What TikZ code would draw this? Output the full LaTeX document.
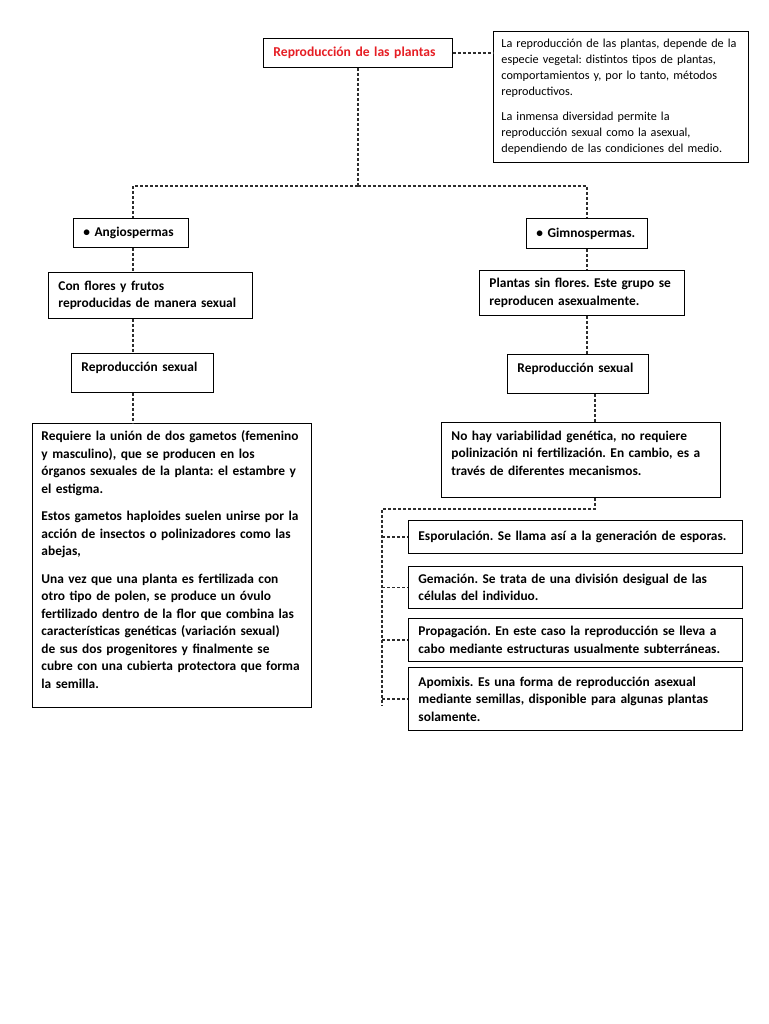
\documentclass[tikz,border=0pt]{standalone}
\usepackage{fontspec}
\setmainfont{Carlito}
\frenchspacing
\usetikzlibrary{positioning,calc}
\definecolor{rojotitulo}{RGB}{230,30,36}
\definecolor{gristrazo}{RGB}{45,45,45}
\newcommand\letraCaja{\fontsize{13.4}{17.5}\selectfont\bfseries\frenchspacing}
\newcommand\letraNota{\fontsize{12.2}{16}\selectfont\frenchspacing}
\tikzset{caja/.style={draw, line width=0.9pt, anchor=north west, align=left, inner xsep=10pt, inner ysep=0pt, font=\letraCaja},
  conector/.style={draw=gristrazo, line width=1.2pt, dash pattern=on 3pt off 2pt}}

\begin{document}
\begin{tikzpicture}[x=1pt,y=-1pt]
\useasboundingbox[fill=white] (0,0) rectangle (768,1024);
% Title and note
\node[caja, text width=169pt, minimum height=29pt, text=rojotitulo, font=\fontsize{13.6}{17.5}\selectfont\bfseries] (titulo) at (263,38) {Reproducción de las plantas};
\node[caja, inner xsep=8pt, text width=239pt, minimum height=131pt, font=\letraNota] (nota) at (493,31) {La reproducción de las plantas, depende de la\\
especie vegetal: distintos tipos de plantas,\\
comportamientos y, por lo tanto, métodos\\
reproductivos.\\[9pt]
La inmensa diversidad permite la\\
reproducción sexual como la asexual,\\
dependiendo de las condiciones del medio.};
% Angiospermas
\node[caja, text width=95pt, minimum height=29pt] (angio) at (73,218) {• Angiospermas};
\node[caja, text width=184pt, minimum height=46pt] (conflores) at (48,272) {Con flores y frutos\\reproducidas de manera sexual};
\node[caja, text width=122pt, minimum height=39pt] (reproA) at (71,353) {Reproducción sexual\rule[-12pt]{0pt}{12pt}};
\node[caja, inner xsep=9pt, text width=261pt, minimum height=284pt] (requiere) at (32,423) {Requiere la unión de dos gametos (femenino\\
y masculino), que se producen en los\\
órganos sexuales de la planta: el estambre y\\
el estigma.\\[10pt]
Estos gametos haploides suelen unirse por la\\
acción de insectos o polinizadores como las\\
abejas,\\[10pt]
Una vez que una planta es fertilizada con\\
otro tipo de polen, se produce un óvulo\\
fertilizado dentro de la flor que combina las\\
características genéticas (variación sexual)\\
de sus dos progenitores y finalmente se\\
cubre con una cubierta protectora que forma\\
la semilla.\rule[-12pt]{0pt}{12pt}};
% Gimnospermas
\node[caja, text width=101pt, minimum height=30pt] (gimno) at (526,218) {• Gimnospermas.};
\node[caja, text width=185pt, minimum height=45pt] (plantas) at (479,270) {Plantas sin flores. Este grupo se\\reproducen asexualmente.};
\node[caja, text width=121pt, minimum height=39pt] (reproB) at (507,354) {Reproducción sexual\rule[-12pt]{0pt}{12pt}};
\node[caja, text width=259pt, minimum height=75pt] (nohay) at (441,422) {No hay variabilidad genética, no requiere\\
polinización ni fertilización. En cambio, es a\\
través de diferentes mecanismos.\rule[-14pt]{0pt}{14pt}};
\node[caja, text width=314pt, minimum height=33pt] (espor) at (408,520) {Esporulación. Se llama así a la generación de esporas.};
\node[caja, text width=314pt, minimum height=42pt] (gema) at (408,566) {Gemación. Se trata de una división desigual de las\\células del individuo.};
\node[caja, text width=314pt, minimum height=43pt] (propa) at (408,618) {Propagación. En este caso la reproducción se lleva a\\cabo mediante estructuras usualmente subterráneas.};
\node[caja, text width=314pt, minimum height=63pt] (apo) at (408,667) {Apomixis. Es una forma de reproducción asexual\\mediante semillas, disponible para algunas plantas\\solamente.};
% Connectors
\coordinate (bif) at (titulo.south |- 0,186);
\coordinate (ejeA) at (133,0);
\coordinate (ejeB) at (595,0);
\coordinate (tronco) at (382,509);
\coordinate (finTronco) at (382,706);
\draw[conector] (titulo.east) -- (titulo.east -| nota.west);
\draw[conector] (titulo.south) -- (bif);
\draw[conector] (bif) -| (ejeA |- angio.north);
\draw[conector] (bif) -| (gimno.north);
\draw[conector] (ejeA |- angio.south) -- (ejeA |- conflores.north);
\draw[conector] (ejeA |- conflores.south) -- (ejeA |- reproA.north);
\draw[conector] (ejeA |- reproA.south) -- (ejeA |- requiere.north);
\draw[conector] (gimno.south) -- (gimno.south |- plantas.north);
\draw[conector] (gimno.south |- plantas.south) -- (gimno.south |- reproB.north);
\draw[conector] (ejeB |- reproB.south) -- (ejeB |- nohay.north);
\draw[conector] (ejeB |- nohay.south) |- (tronco) -- (finTronco);
\foreach \rama in {espor,gema,propa,apo}
  \draw[conector] (tronco |- \rama.west) -- (\rama.west);
\end{tikzpicture}
\end{document}
